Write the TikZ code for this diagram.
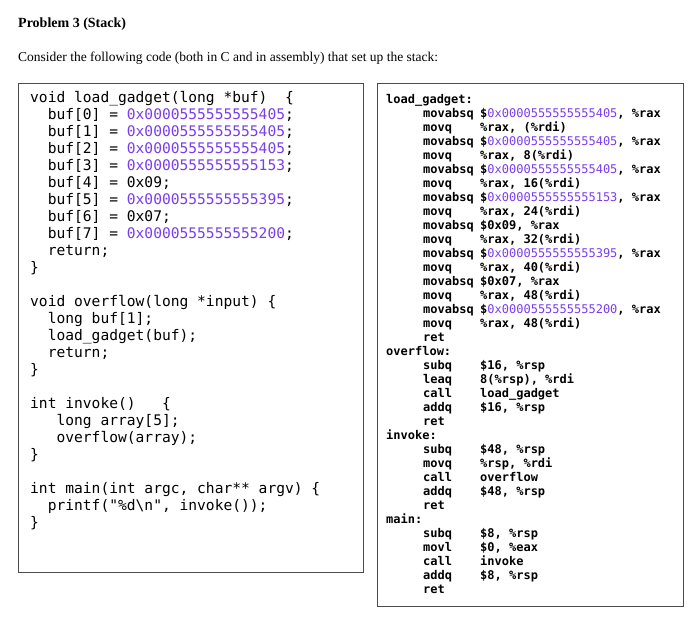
\documentclass[tikz,border=0pt]{standalone}
\usepackage{fontspec}
\setmainfont{Liberation Serif}
\setmonofont{DejaVu Sans Mono}
\definecolor{hexc}{RGB}{122,61,235}
\newcommand{\hx}[1]{{\color{hexc}\mdseries #1}}
\tikzset{
  lc/.style={anchor=base west,inner sep=0pt,font=\ttfamily\fontsize{14.6}{17}\selectfont},
  rc/.style={anchor=base west,inner sep=0pt,font=\ttfamily\bfseries\fontsize{12}{14}\selectfont},
  codebox/.style={draw=black!70,line width=0.8pt}
}
\begin{document}
\begin{tikzpicture}[x=1pt,y=-1pt]
\useasboundingbox (0,0) rectangle (698,632);
\node[anchor=base west,inner sep=0pt,font=\bfseries\fontsize{14}{16}\selectfont] (title) at (18,27) {Problem 3 (Stack)};
\node[anchor=base west,inner sep=0pt,font=\fontsize{13.5}{16}\selectfont] (intro) at (18,61) {Consider the following code (both in C and in assembly) that set up the stack:};
\draw[codebox] (18,83) rectangle (363,572);
\draw[codebox] (377,83) rectangle (683,606);
% left code
\node[lc] (l0) at (30,102) {void load\_gadget(long *buf)\ \ \{};
\node[lc] (l1) at (30,119) {\ \ buf[0] = \hx{0x0000555555555405};};
\node[lc] (l2) at (30,136) {\ \ buf[1] = \hx{0x0000555555555405};};
\node[lc] (l3) at (30,153) {\ \ buf[2] = \hx{0x0000555555555405};};
\node[lc] (l4) at (30,170) {\ \ buf[3] = \hx{0x0000555555555153};};
\node[lc] (l5) at (30,187) {\ \ buf[4] = 0x09;};
\node[lc] (l6) at (30,204) {\ \ buf[5] = \hx{0x0000555555555395};};
\node[lc] (l7) at (30,221) {\ \ buf[6] = 0x07;};
\node[lc] (l8) at (30,238) {\ \ buf[7] = \hx{0x0000555555555200};};
\node[lc] (l9) at (30,255) {\ \ return;};
\node[lc] (l10) at (30,272) {\}};
\node[lc] (l12) at (30,306) {void overflow(long *input) \{};
\node[lc] (l13) at (30,323) {\ \ long buf[1];};
\node[lc] (l14) at (30,340) {\ \ load\_gadget(buf);};
\node[lc] (l15) at (30,357) {\ \ return;};
\node[lc] (l16) at (30,374) {\}};
\node[lc] (l18) at (30,408) {int invoke()\ \ \ \{};
\node[lc] (l19) at (30,425) {\ \ \ long array[5];};
\node[lc] (l20) at (30,442) {\ \ \ overflow(array);};
\node[lc] (l21) at (30,459) {\}};
\node[lc] (l23) at (30,493) {int main(int argc, char** argv) \{};
\node[lc] (l24) at (30,510) {\ \ printf("\%d\textbackslash n", invoke());};
\node[lc] (l25) at (30,527) {\}};
% right code
\newcommand{\ml}[3]{\node[rc] at (423,#1) {#2}; \node[rc] at (480,#1) {#3};}
\newcommand{\lb}[2]{\node[rc] at (386,#1) {#2};}
\lb{103}{load\_gadget:}
\ml{117}{movabsq}{\$\hx{0x0000555555555405}, \%rax}
\ml{131}{movq}{\%rax, (\%rdi)}
\ml{145}{movabsq}{\$\hx{0x0000555555555405}, \%rax}
\ml{159}{movq}{\%rax, 8(\%rdi)}
\ml{173}{movabsq}{\$\hx{0x0000555555555405}, \%rax}
\ml{187}{movq}{\%rax, 16(\%rdi)}
\ml{201}{movabsq}{\$\hx{0x0000555555555153}, \%rax}
\ml{215}{movq}{\%rax, 24(\%rdi)}
\ml{229}{movabsq}{\$0x09, \%rax}
\ml{243}{movq}{\%rax, 32(\%rdi)}
\ml{257}{movabsq}{\$\hx{0x0000555555555395}, \%rax}
\ml{271}{movq}{\%rax, 40(\%rdi)}
\ml{285}{movabsq}{\$0x07, \%rax}
\ml{299}{movq}{\%rax, 48(\%rdi)}
\ml{313}{movabsq}{\$\hx{0x0000555555555200}, \%rax}
\ml{327}{movq}{\%rax, 48(\%rdi)}
\ml{341}{ret}{}
\lb{355}{overflow:}
\ml{369}{subq}{\$16, \%rsp}
\ml{383}{leaq}{8(\%rsp), \%rdi}
\ml{397}{call}{load\_gadget}
\ml{411}{addq}{\$16, \%rsp}
\ml{425}{ret}{}
\lb{439}{invoke:}
\ml{453}{subq}{\$48, \%rsp}
\ml{467}{movq}{\%rsp, \%rdi}
\ml{481}{call}{overflow}
\ml{495}{addq}{\$48, \%rsp}
\ml{509}{ret}{}
\lb{523}{main:}
\ml{537}{subq}{\$8, \%rsp}
\ml{551}{movl}{\$0, \%eax}
\ml{565}{call}{invoke}
\ml{579}{addq}{\$8, \%rsp}
\ml{593}{ret}{}
\end{tikzpicture}
\end{document}
